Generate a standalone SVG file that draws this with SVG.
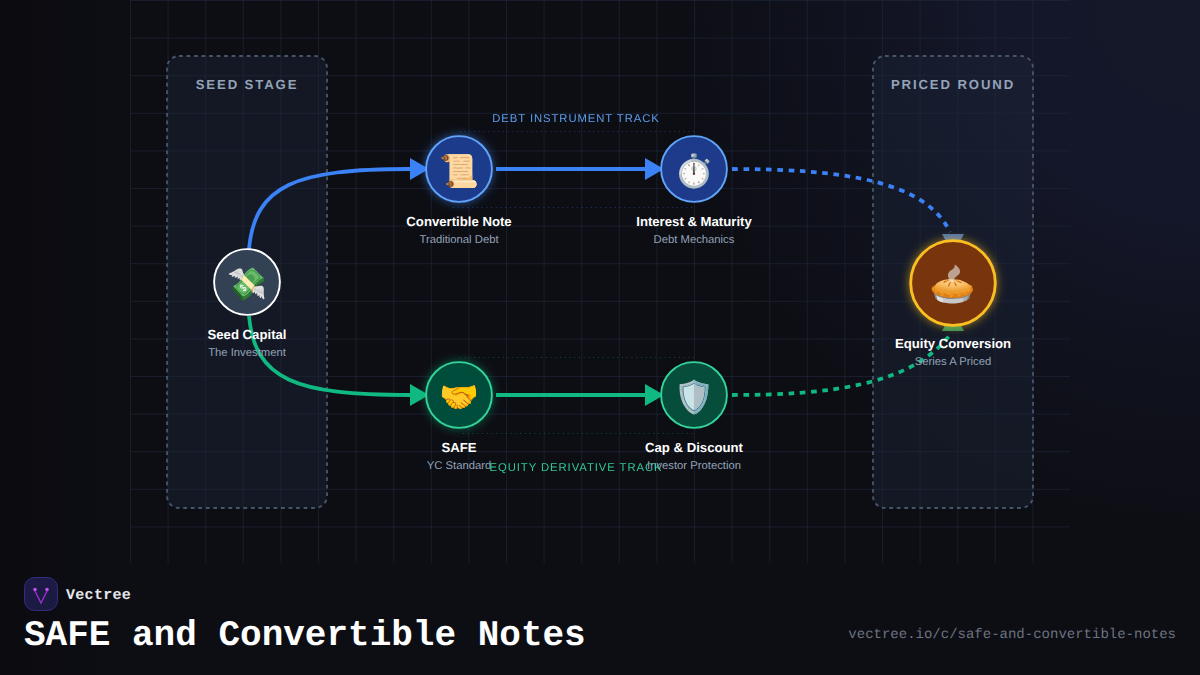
<svg xmlns="http://www.w3.org/2000/svg" width="1200" height="675" viewBox="0 0 1200 675">
<style>
text{font-family:"Liberation Sans",Arial,sans-serif;text-rendering:geometricPrecision}
.panel{fill:#1e293b;fill-opacity:.4;stroke:#475569;stroke-width:1.880;stroke-dasharray:3.760 3.760}
.ptitle{font-size:13.160px;font-weight:700;letter-spacing:1.880px;fill:#94a3b8;text-anchor:middle}
.name{font-size:13.160px;font-weight:700;fill:#fff;text-anchor:middle}
.sub{font-size:11.280px;fill:#94a3b8;text-anchor:middle}
.emoji{text-anchor:middle;font-family:"Noto Color Emoji","Liberation Sans",sans-serif}
.track{font-size:11.280px;letter-spacing:.940px;text-anchor:middle;opacity:.95}
.edge{fill:none;stroke-width:3.760}
.blue{stroke:#3b82f6}
.green{stroke:#10b981}
.dot{stroke-dasharray:5.640 5.640}
.guide{stroke-width:.940;stroke-dasharray:1 3.760;fill:none;opacity:.4}
.mono{font-family:"Liberation Mono",monospace}
</style>
<defs>
<radialGradient id="bg" gradientUnits="userSpaceOnUse" cx="1200" cy="0" r="540">
<stop offset="0" stop-color="#151829"/><stop offset=".4" stop-color="#141729"/><stop offset=".65" stop-color="#10121e"/><stop offset="1" stop-color="#0d0e14"/>
</radialGradient>
<linearGradient id="left" x1="0" y1="0" x2="1" y2="0"><stop offset="0" stop-color="#0b0b10"/><stop offset="1" stop-color="#0b0b10" stop-opacity="0"/></linearGradient>
<pattern id="gp" x="130" y="0" width="37.6" height="37.6" patternUnits="userSpaceOnUse"><path d="M.5 0V37.6M0 .5H37.6" fill="none" stroke="#1e293b" stroke-width=".94" stroke-opacity=".6"/></pattern>
<marker id="ab" markerUnits="userSpaceOnUse" markerWidth="20" markerHeight="24" refX="0" refY="12" orient="auto"><path d="M0 1L19 12L0 23Z" fill="#3b82f6"/></marker>
<marker id="ag" markerUnits="userSpaceOnUse" markerWidth="20" markerHeight="24" refX="0" refY="12" orient="auto"><path d="M0 1L19 12L0 23Z" fill="#10b981"/></marker>
<filter id="gb" x="-40%" y="-40%" width="180%" height="180%"><feDropShadow dx="0" dy="0" stdDeviation="5" flood-color="#3b82f6" flood-opacity=".6"/></filter>
<filter id="gg" x="-40%" y="-40%" width="180%" height="180%"><feDropShadow dx="0" dy="0" stdDeviation="5" flood-color="#10b981" flood-opacity=".5"/></filter>
<filter id="gy" x="-40%" y="-40%" width="180%" height="180%"><feDropShadow dx="0" dy="0" stdDeviation="5" flood-color="#fbbf24" flood-opacity=".6"/></filter>
<linearGradient id="logo" x1="0" y1="0" x2="1" y2="1"><stop offset="0" stop-color="#1e1b4b"/><stop offset="1" stop-color="#1a1a3e"/></linearGradient>
</defs>
<rect width="1200" height="675" fill="url(#bg)"/>
<rect width="130" height="675" fill="url(#left)"/>
<rect x="130" y="0" width="940" height="563" fill="url(#gp)"/>
<g id="seed-stage"><rect class="panel" x="167" y="56" width="160" height="452" rx="12"/><text class="ptitle" x="247" y="89">SEED STAGE</text></g>
<g id="priced-round"><rect class="panel" x="873" y="56" width="160" height="452" rx="12"/><text class="ptitle" x="953" y="89">PRICED ROUND</text></g>
<g id="tracks">
<path class="guide" stroke="#3b82f6" d="M460 131.500H694M453 207.500H694"/>
<path class="guide" stroke="#10b981" d="M460 357.500H694M463 433.500H694"/>
</g>
<g id="connectors">
<path class="edge blue" marker-end="url(#ab)" d="M249 249C255 185 295 169 410 169"/>
<path class="edge green" marker-end="url(#ag)" d="M249 316C255 380 295 395 410 395"/>
<path class="edge blue" marker-end="url(#ab)" d="M496 169H645"/>
<path class="edge green" marker-end="url(#ag)" d="M496 395H645"/>
<path class="edge blue dot" d="M732 169C840 169 925 180 950 232"/>
<path class="edge green dot" d="M732 395C830 395 910 385 949 336"/>
<path d="M942 234H964L953 254Z" fill="#4f74ae"/>
<path d="M942 331H964L953 311Z" fill="#2f8f5b"/>
</g>
<g id="seed-capital"><circle cx="247" cy="282" r="32.900" fill="#334155" stroke="#fff" stroke-width="1.880"/><text class="emoji" x="247" y="295" font-size="32">💸</text><text class="name" x="247" y="339">Seed Capital</text><text class="sub" x="247" y="356">The Investment</text></g>
<g id="convertible-note"><circle cx="459" cy="169" r="32.900" fill="#1e3a8a" stroke="#60a5fa" stroke-width="1.880" filter="url(#gb)"/><text class="emoji" x="459" y="182" font-size="32">📜</text><text class="name" x="459" y="226">Convertible Note</text><text class="sub" x="459" y="243">Traditional Debt</text></g>
<g id="interest-maturity"><circle cx="694" cy="169" r="32.900" fill="#1e3a8a" stroke="#60a5fa" stroke-width="1.880"/><text class="emoji" x="694" y="182" font-size="32">⏱️</text><text class="name" x="694" y="226">Interest &amp; Maturity</text><text class="sub" x="694" y="243">Debt Mechanics</text></g>
<g id="safe"><circle cx="459" cy="395" r="32.900" fill="#064e3b" stroke="#34d399" stroke-width="1.880" filter="url(#gg)"/><text class="emoji" x="459" y="408" font-size="32">🤝</text><text class="name" x="459" y="452">SAFE</text><text class="sub" x="459" y="469">YC Standard</text></g>
<g id="cap-discount"><circle cx="694" cy="395" r="32.900" fill="#064e3b" stroke="#34d399" stroke-width="1.880"/><text class="emoji" x="694" y="408" font-size="32">🛡️</text><text class="name" x="694" y="452">Cap &amp; Discount</text><text class="sub" x="694" y="469">Investor Protection</text></g>
<g id="equity-conversion"><circle cx="953" cy="283" r="42.300" fill="#78350f" stroke="#fbbf24" stroke-width="2.820" filter="url(#gy)"/><text class="emoji" x="953" y="297" font-size="37.600">🥧</text><text class="name" x="953" y="348">Equity Conversion</text><text class="sub" x="953" y="365">Series A Priced</text></g>
<g id="track-labels">
<text class="track" x="576" y="122" fill="#60a5fa">DEBT INSTRUMENT TRACK</text>
<text class="track" x="576" y="471" fill="#34d399">EQUITY DERIVATIVE TRACK</text>
</g>
<g id="footer">
<rect x="24.500" y="577.500" width="33" height="33" rx="10" fill="url(#logo)" stroke="#312e81"/>
<path d="M35 591L41 603L47 591" fill="none" stroke="#a030d8" stroke-width="1.300"/>
<circle cx="35" cy="589.500" r="1.800" fill="#c050e8"/><circle cx="47" cy="589.500" r="1.800" fill="#c050e8"/>
<text class="mono" x="66" y="598.500" font-size="15" letter-spacing=".3" font-weight="700" fill="#e5e7eb">Vectree</text>
<text class="mono" x="24" y="645" font-size="36" font-weight="700" fill="#fff">SAFE and Convertible Notes</text>
<text class="mono" x="1176" y="637.500" font-size="14" fill="#6b7280" text-anchor="end">vectree.io/c/safe-and-convertible-notes</text>
</g>
</svg>
